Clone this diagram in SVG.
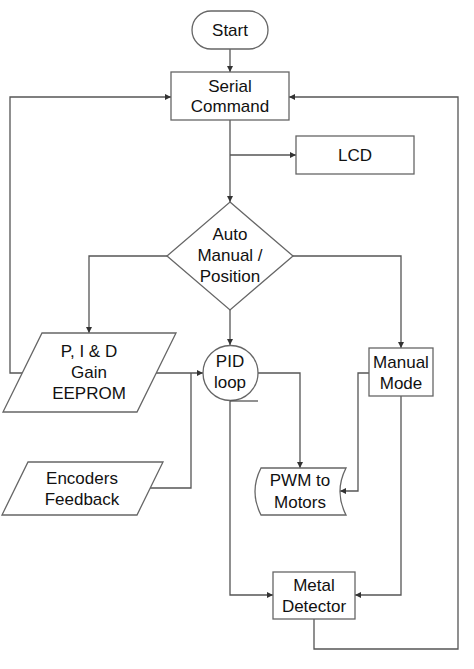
<svg xmlns="http://www.w3.org/2000/svg" width="474" height="669" viewBox="0 0 474 669">
<style>
.s{fill:#fff;stroke:#666;stroke-width:1.3}
.c{fill:none;stroke:#555;stroke-width:1.3}
text{font-family:"Liberation Sans",Arial,sans-serif;font-size:17px;fill:#111;text-anchor:middle}
</style>
<defs>
<marker id="a" markerUnits="userSpaceOnUse" markerWidth="7" markerHeight="6" refX="6" refY="3" orient="auto">
<path d="M0,0 L6,3 L0,6 z" fill="#333"/>
</marker>
</defs>
<rect width="474" height="669" fill="#fff"/>
<g id="connectors" class="c" marker-end="url(#a)">
<path d="M230,49 V72"/>
<path d="M230,155 H296"/>
<path d="M230,120 V202"/>
<path d="M167,256 H89 V333"/>
<path d="M230,310 V345"/>
<path d="M293,256 H401 V348"/>
<path d="M22,373 H10 V97 H171"/>
<path d="M156,373 H203"/>
<path d="M150,488 H191 V373" marker-end="none"/>
<path d="M258,373 H300 V468"/>
<path d="M230,401 V595 H273"/>
<path d="M369,373 H358 V491 H340"/>
<path d="M401,396 V595 H355"/>
<path d="M314,619 V649 H458 V97 H289"/>
</g>
<g id="start"><rect class="s" x="192" y="11" width="76" height="38" rx="19"/><text x="230" y="36">Start</text></g>
<g id="serial"><rect class="s" x="171" y="72" width="118" height="48"/><text x="230" y="92">Serial</text><text x="230" y="112">Command</text></g>
<g id="lcd"><rect class="s" x="296" y="136" width="118" height="38"/><text x="355" y="161">LCD</text></g>
<g id="mode"><path class="s" d="M230,202 L293,256 L230,310 L167,256 Z"/><text x="230" y="240">Auto</text><text x="230" y="261">Manual /</text><text x="230" y="282">Position</text></g>
<g id="eeprom"><path class="s" d="M42,333 H176 L137,412 H3 Z"/><text x="89" y="357">P, I &amp; D</text><text x="89" y="378">Gain</text><text x="89" y="399">EEPROM</text></g>
<g id="pid"><circle class="s" cx="230.5" cy="373" r="27.5"/><path class="c" d="M230,401 H258"/><text x="230" y="367">PID</text><text x="230" y="388">loop</text></g>
<g id="manual"><rect class="s" x="369" y="348" width="64" height="48"/><text x="401" y="368">Manual</text><text x="401" y="389">Mode</text></g>
<g id="encoders"><path class="s" d="M28,462 H163 L137,515 H2 Z"/><text x="82" y="484">Encoders</text><text x="82" y="505">Feedback</text></g>
<g id="pwm"><path class="s" d="M261,468 H346 Q334,491.5 346,515 H261 Q249,491.5 261,468 Z"/><text x="300" y="486">PWM to</text><text x="300" y="508">Motors</text></g>
<g id="metal"><rect class="s" x="273" y="572" width="82" height="47"/><text x="314" y="591">Metal</text><text x="314" y="612">Detector</text></g>
</svg>
